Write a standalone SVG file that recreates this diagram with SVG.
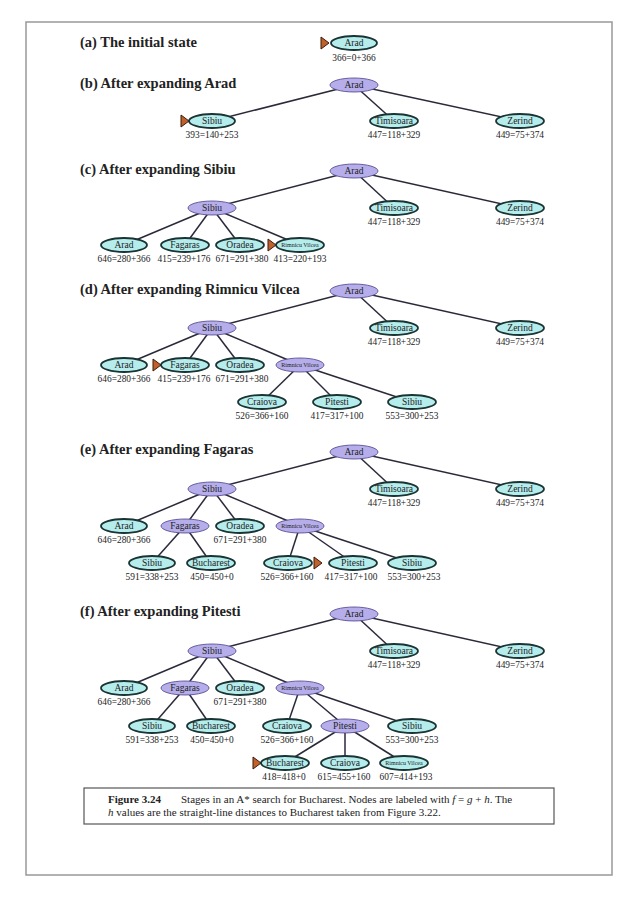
<svg xmlns="http://www.w3.org/2000/svg" width="638" height="902" viewBox="0 0 638 902">
<style>
.c{fill:#b5ecec;stroke:#1a3333;stroke-width:1.8}
.p{fill:#b6aeea;stroke:#4a4088;stroke-width:0.8}
.n{font-family:"Liberation Serif",serif;font-size:9.5px;fill:#222;text-anchor:middle}
.s{font-size:6px}
.l{font-family:"Liberation Serif",serif;font-size:9.4px;fill:#222;text-anchor:middle}
.h{font-family:"Liberation Serif",serif;font-size:14.5px;font-weight:bold;fill:#222}
.e line{stroke:#2a2a3a;stroke-width:1.5}
.m{fill:#c0602a;stroke:#3a1a0a;stroke-width:1}
.cap{font-family:"Liberation Serif",serif;font-size:11px;fill:#222}
</style>
<rect width="638" height="902" fill="#fff"/>
<rect x="26" y="22" width="586" height="853" fill="none" stroke="#999" stroke-width="1.5"/>
<g id="headings">
<text class="h" x="80" y="47">(a) The initial state</text>
<text class="h" x="80" y="88">(b) After expanding Arad</text>
<text class="h" x="80" y="174">(c) After expanding Sibiu</text>
<text class="h" x="80" y="294">(d) After expanding Rimnicu Vilcea</text>
<text class="h" x="80" y="454">(e) After expanding Fagaras</text>
<text class="h" x="80" y="616">(f) After expanding Pitesti</text>
</g>
<g id="connectors" class="e">
<line x1="354" y1="85" x2="212" y2="121"/><line x1="354" y1="85" x2="394" y2="121"/><line x1="354" y1="85" x2="520" y2="121"/>
<line x1="354" y1="171" x2="212" y2="208"/><line x1="354" y1="171" x2="394" y2="208"/><line x1="354" y1="171" x2="520" y2="208"/>
<line x1="212" y1="208" x2="124" y2="245"/><line x1="212" y1="208" x2="185" y2="245"/><line x1="212" y1="208" x2="240" y2="245"/><line x1="212" y1="208" x2="300" y2="245"/>
<line x1="354" y1="291" x2="212" y2="328"/><line x1="354" y1="291" x2="394" y2="328"/><line x1="354" y1="291" x2="520" y2="328"/>
<line x1="212" y1="328" x2="124" y2="365"/><line x1="212" y1="328" x2="185" y2="365"/><line x1="212" y1="328" x2="240" y2="365"/><line x1="212" y1="328" x2="300" y2="365"/>
<line x1="300" y1="365" x2="262" y2="402"/><line x1="300" y1="365" x2="337" y2="402"/><line x1="300" y1="365" x2="412" y2="402"/>
<line x1="354" y1="452" x2="212" y2="489"/><line x1="354" y1="452" x2="394" y2="489"/><line x1="354" y1="452" x2="520" y2="489"/>
<line x1="212" y1="489" x2="124" y2="526"/><line x1="212" y1="489" x2="185" y2="526"/><line x1="212" y1="489" x2="240" y2="526"/><line x1="212" y1="489" x2="300" y2="526"/>
<line x1="185" y1="526" x2="152" y2="563"/><line x1="185" y1="526" x2="211" y2="563"/>
<line x1="300" y1="526" x2="288" y2="563"/><line x1="300" y1="526" x2="353" y2="563"/><line x1="300" y1="526" x2="412" y2="563"/>
<line x1="354" y1="614" x2="212" y2="651"/><line x1="354" y1="614" x2="394" y2="651"/><line x1="354" y1="614" x2="520" y2="651"/>
<line x1="212" y1="651" x2="124" y2="688"/><line x1="212" y1="651" x2="185" y2="688"/><line x1="212" y1="651" x2="240" y2="688"/><line x1="212" y1="651" x2="300" y2="688"/>
<line x1="185" y1="688" x2="152" y2="726"/><line x1="185" y1="688" x2="211" y2="726"/>
<line x1="300" y1="688" x2="287" y2="726"/><line x1="300" y1="688" x2="345" y2="726"/><line x1="300" y1="688" x2="412" y2="726"/>
<line x1="345" y1="726" x2="285" y2="763"/><line x1="345" y1="726" x2="345" y2="763"/><line x1="345" y1="726" x2="404" y2="763"/>
</g>
<g id="a0"><polygon class="m" points="321,37 329,43 321,49"/><ellipse class="c" cx="354" cy="43" rx="23" ry="7"/><text class="n" x="354" y="46">Arad</text><text class="l" x="354" y="61">366=0+366</text></g>
<g id="b0"><ellipse class="p" cx="354" cy="85" rx="24" ry="7"/><text class="n" x="354" y="88">Arad</text></g>
<g id="b1"><polygon class="m" points="181,115 189,121 181,127"/><ellipse class="c" cx="212" cy="121" rx="23" ry="7"/><text class="n" x="212" y="124">Sibiu</text><text class="l" x="212" y="138">393=140+253</text></g>
<g id="b2"><ellipse class="c" cx="394" cy="121" rx="24" ry="7"/><text class="n" x="394" y="124">Timisoara</text><text class="l" x="394" y="138">447=118+329</text></g>
<g id="b3"><ellipse class="c" cx="520" cy="121" rx="24" ry="7"/><text class="n" x="520" y="124">Zerind</text><text class="l" x="520" y="138">449=75+374</text></g>
<g id="c0"><ellipse class="p" cx="354" cy="171" rx="24" ry="7"/><text class="n" x="354" y="174">Arad</text></g>
<g id="c1"><ellipse class="p" cx="212" cy="208" rx="24" ry="7"/><text class="n" x="212" y="211">Sibiu</text></g>
<g id="c2"><ellipse class="c" cx="394" cy="208" rx="24" ry="7"/><text class="n" x="394" y="211">Timisoara</text><text class="l" x="394" y="225">447=118+329</text></g>
<g id="c3"><ellipse class="c" cx="520" cy="208" rx="24" ry="7"/><text class="n" x="520" y="211">Zerind</text><text class="l" x="520" y="225">449=75+374</text></g>
<g id="c4"><ellipse class="c" cx="124" cy="245" rx="23" ry="7"/><text class="n" x="124" y="248">Arad</text><text class="l" x="124" y="262">646=280+366</text></g>
<g id="c5"><ellipse class="c" cx="185" cy="245" rx="24" ry="7"/><text class="n" x="185" y="248">Fagaras</text><text class="l" x="184" y="262">415=239+176</text></g>
<g id="c6"><ellipse class="c" cx="240" cy="245" rx="24" ry="7"/><text class="n" x="240" y="248">Oradea</text><text class="l" x="242" y="262">671=291+380</text></g>
<g id="c7"><polygon class="m" points="268,239 276,245 268,251"/><ellipse class="c" cx="300" cy="245" rx="24" ry="7"/><text class="n s" x="300" y="247">Rimnicu Vilcea</text><text class="l" x="300" y="262">413=220+193</text></g>
<g id="d0"><ellipse class="p" cx="354" cy="291" rx="24" ry="7"/><text class="n" x="354" y="294">Arad</text></g>
<g id="d1"><ellipse class="p" cx="212" cy="328" rx="24" ry="7"/><text class="n" x="212" y="331">Sibiu</text></g>
<g id="d2"><ellipse class="c" cx="394" cy="328" rx="24" ry="7"/><text class="n" x="394" y="331">Timisoara</text><text class="l" x="394" y="345">447=118+329</text></g>
<g id="d3"><ellipse class="c" cx="520" cy="328" rx="24" ry="7"/><text class="n" x="520" y="331">Zerind</text><text class="l" x="520" y="345">449=75+374</text></g>
<g id="d4"><ellipse class="c" cx="124" cy="365" rx="23" ry="7"/><text class="n" x="124" y="368">Arad</text><text class="l" x="124" y="382">646=280+366</text></g>
<g id="d5"><polygon class="m" points="153,359 161,365 153,371"/><ellipse class="c" cx="185" cy="365" rx="24" ry="7"/><text class="n" x="185" y="368">Fagaras</text><text class="l" x="184" y="382">415=239+176</text></g>
<g id="d6"><ellipse class="c" cx="240" cy="365" rx="24" ry="7"/><text class="n" x="240" y="368">Oradea</text><text class="l" x="242" y="382">671=291+380</text></g>
<g id="d7"><ellipse class="p" cx="300" cy="365" rx="24" ry="7"/><text class="n s" x="300" y="367">Rimnicu Vilcea</text></g>
<g id="d8"><ellipse class="c" cx="262" cy="402" rx="24" ry="7"/><text class="n" x="262" y="405">Craiova</text><text class="l" x="262" y="419">526=366+160</text></g>
<g id="d9"><ellipse class="c" cx="337" cy="402" rx="24" ry="7"/><text class="n" x="337" y="405">Pitesti</text><text class="l" x="337" y="419">417=317+100</text></g>
<g id="d10"><ellipse class="c" cx="412" cy="402" rx="24" ry="7"/><text class="n" x="412" y="405">Sibiu</text><text class="l" x="412" y="419">553=300+253</text></g>
<g id="e0"><ellipse class="p" cx="354" cy="452" rx="24" ry="7"/><text class="n" x="354" y="455">Arad</text></g>
<g id="e1"><ellipse class="p" cx="212" cy="489" rx="24" ry="7"/><text class="n" x="212" y="492">Sibiu</text></g>
<g id="e2"><ellipse class="c" cx="394" cy="489" rx="24" ry="7"/><text class="n" x="394" y="492">Timisoara</text><text class="l" x="394" y="506">447=118+329</text></g>
<g id="e3"><ellipse class="c" cx="520" cy="489" rx="24" ry="7"/><text class="n" x="520" y="492">Zerind</text><text class="l" x="520" y="506">449=75+374</text></g>
<g id="e4"><ellipse class="c" cx="124" cy="526" rx="23" ry="7"/><text class="n" x="124" y="529">Arad</text><text class="l" x="124" y="543">646=280+366</text></g>
<g id="e5"><ellipse class="p" cx="185" cy="526" rx="24" ry="7"/><text class="n" x="185" y="529">Fagaras</text></g>
<g id="e6"><ellipse class="c" cx="240" cy="526" rx="24" ry="7"/><text class="n" x="240" y="529">Oradea</text><text class="l" x="240" y="543">671=291+380</text></g>
<g id="e7"><ellipse class="p" cx="300" cy="526" rx="24" ry="7"/><text class="n s" x="300" y="528">Rimnicu Vilcea</text></g>
<g id="e8"><ellipse class="c" cx="152" cy="563" rx="23" ry="7"/><text class="n" x="152" y="566">Sibiu</text><text class="l" x="152" y="580">591=338+253</text></g>
<g id="e9"><ellipse class="c" cx="211" cy="563" rx="24" ry="7"/><text class="n" x="211" y="566">Bucharest</text><text class="l" x="212" y="580">450=450+0</text></g>
<g id="e10"><ellipse class="c" cx="288" cy="563" rx="24" ry="7"/><text class="n" x="288" y="566">Craiova</text><text class="l" x="287" y="580">526=366+160</text></g>
<g id="e11"><polygon class="m" points="314,557 322,563 314,569"/><ellipse class="c" cx="353" cy="563" rx="24" ry="7"/><text class="n" x="353" y="566">Pitesti</text><text class="l" x="351" y="580">417=317+100</text></g>
<g id="e12"><ellipse class="c" cx="412" cy="563" rx="24" ry="7"/><text class="n" x="412" y="566">Sibiu</text><text class="l" x="414" y="580">553=300+253</text></g>
<g id="f0"><ellipse class="p" cx="354" cy="614" rx="24" ry="7"/><text class="n" x="354" y="617">Arad</text></g>
<g id="f1"><ellipse class="p" cx="212" cy="651" rx="24" ry="7"/><text class="n" x="212" y="654">Sibiu</text></g>
<g id="f2"><ellipse class="c" cx="394" cy="651" rx="24" ry="7"/><text class="n" x="394" y="654">Timisoara</text><text class="l" x="394" y="668">447=118+329</text></g>
<g id="f3"><ellipse class="c" cx="520" cy="651" rx="24" ry="7"/><text class="n" x="520" y="654">Zerind</text><text class="l" x="520" y="668">449=75+374</text></g>
<g id="f4"><ellipse class="c" cx="124" cy="688" rx="23" ry="7"/><text class="n" x="124" y="691">Arad</text><text class="l" x="124" y="705">646=280+366</text></g>
<g id="f5"><ellipse class="p" cx="185" cy="688" rx="24" ry="7"/><text class="n" x="185" y="691">Fagaras</text></g>
<g id="f6"><ellipse class="c" cx="240" cy="688" rx="24" ry="7"/><text class="n" x="240" y="691">Oradea</text><text class="l" x="240" y="705">671=291+380</text></g>
<g id="f7"><ellipse class="p" cx="300" cy="688" rx="24" ry="7"/><text class="n s" x="300" y="690">Rimnicu Vilcea</text></g>
<g id="f8"><ellipse class="c" cx="152" cy="726" rx="23" ry="7"/><text class="n" x="152" y="729">Sibiu</text><text class="l" x="152" y="743">591=338+253</text></g>
<g id="f9"><ellipse class="c" cx="211" cy="726" rx="24" ry="7"/><text class="n" x="211" y="729">Bucharest</text><text class="l" x="212" y="743">450=450+0</text></g>
<g id="f10"><ellipse class="c" cx="287" cy="726" rx="24" ry="7"/><text class="n" x="287" y="729">Craiova</text><text class="l" x="287" y="743">526=366+160</text></g>
<g id="f11"><ellipse class="p" cx="345" cy="726" rx="24" ry="7"/><text class="n" x="345" y="729">Pitesti</text></g>
<g id="f12"><ellipse class="c" cx="412" cy="726" rx="24" ry="7"/><text class="n" x="412" y="729">Sibiu</text><text class="l" x="412" y="743">553=300+253</text></g>
<g id="f13"><polygon class="m" points="253,757 261,763 253,769"/><ellipse class="c" cx="285" cy="763" rx="24" ry="7"/><text class="n" x="285" y="766">Bucharest</text><text class="l" x="284" y="780">418=418+0</text></g>
<g id="f14"><ellipse class="c" cx="345" cy="763" rx="24" ry="7"/><text class="n" x="345" y="766">Craiova</text><text class="l" x="344" y="780">615=455+160</text></g>
<g id="f15"><ellipse class="c" cx="404" cy="763" rx="24" ry="7"/><text class="n s" x="404" y="765">Rimnicu Vilcea</text><text class="l" x="406" y="780">607=414+193</text></g>
<g id="caption">
<rect x="84" y="788" width="470" height="36" fill="#fff" stroke="#555" stroke-width="1.2"/>
<text class="cap" x="108" y="803" font-weight="bold">Figure 3.24</text>
<text class="cap" x="181" y="803">Stages in an A* search for Bucharest. Nodes are labeled with <tspan font-style="italic">f</tspan> = <tspan font-style="italic">g</tspan> + <tspan font-style="italic">h</tspan>. The</text>
<text class="cap" x="108" y="816"><tspan font-style="italic">h</tspan> values are the straight-line distances to Bucharest taken from Figure 3.22.</text>
</g>
</svg>
